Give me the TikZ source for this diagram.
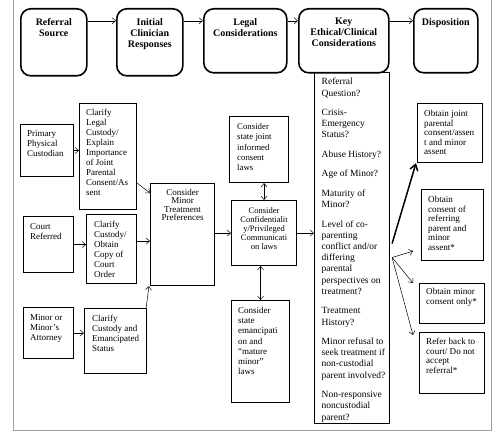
\documentclass[tikz,border=0pt]{standalone}
\usepackage{fontspec}
\setmainfont{Liberation Serif}
\usetikzlibrary{arrows.meta}
\begin{document}
\begin{tikzpicture}[x=1pt,y=-1pt,
 bx/.style={draw, line width=1.1pt, anchor=north west, inner sep=0pt, fill=white},
 tbox/.style={draw, line width=1.6pt, rounded corners=10pt, anchor=north west, inner sep=0pt, fill=white},
 ttxt/.style={anchor=north, inner sep=0pt, align=center, font=\fontsize{10}{11}\selectfont\bfseries},
 ltxt/.style={anchor=north west, inner sep=0pt, align=left, font=\fontsize{9}{10}\selectfont},
 ctxt/.style={anchor=north, inner sep=0pt, align=center},
 dtxt/.style={anchor=north west, inner sep=0pt, align=left, font=\fontsize{9.1}{9.6}\selectfont},
 arr/.style={-{Straight Barb[length=3.5pt,width=6pt]}, line width=0.5pt},
 darr/.style={{Straight Barb[length=3.5pt,width=6pt]}-{Straight Barb[length=3.5pt,width=6pt]}, line width=0.5pt},
 thk/.style={-{Straight Barb[length=6pt,width=8pt]}, line width=1.5pt}]
\useasboundingbox (0,0) rectangle (500,443);
\draw[gray!75, line width=1pt] (13,0) -- (13,430) -- (491,430) -- (491,0);

% top row
\node[tbox, minimum width=66pt, minimum height=67pt] (ref) at (20,8) {};
\node[ttxt] (ref-t) at ([yshift=-10pt]ref.north) {Referral\\Source};
\node[tbox, minimum width=66pt, minimum height=67pt] (init) at (116,8) {};
\node[ttxt] (init-t) at ([yshift=-10pt]init.north) {Initial\\Clinician\\Responses};
\node[tbox, minimum width=83pt, minimum height=64pt] (legal) at (203,8) {};
\node[ttxt] (legal-t) at ([yshift=-10pt]legal.north) {Legal\\Considerations};

% referral question column
\node[bx, minimum width=75pt, minimum height=351pt] (refq) at (314,72) {};
\node[ltxt, font=\fontsize{9.5}{11.2}\selectfont] (refq-t) at ([shift={(7.5pt,-6pt)}]refq.north west)
 {Referral\\Question?\\[8.3pt]
  Crisis-\\Emergency\\Status?\\[8.3pt]
  Abuse History?\\[8.3pt]
  Age of Minor?\\[8.3pt]
  Maturity of\\Minor?\\[8.3pt]
  Level of co-\\parenting\\conflict and/or\\differing\\parental\\perspectives on\\treatment?\\[8.3pt]
  Treatment\\History?\\[8.3pt]
  Minor refusal to\\seek treatment if\\non-custodial\\parent involved?\\[8.3pt]
  Non-responsive\\noncustodial\\parent?};

\node[tbox, minimum width=90pt, minimum height=64pt] (key) at (298,8) {};
\node[ttxt] (key-t) at ([yshift=-10pt]key.north) {Key\\Ethical/Clinical\\Considerations};
\node[tbox, minimum width=64pt, minimum height=64pt] (disp) at (413,8) {};
\node[ttxt] (disp-t) at ([yshift=-10pt]disp.north) {Disposition};

\draw[arr] ([yshift=21.5pt]ref.east) -- ([yshift=21.5pt]init.west);
\draw[arr] ([yshift=21.5pt]init.east) -- ([yshift=20pt]legal.west);
\draw[arr] ([yshift=20pt]legal.east) -- ([yshift=20pt]key.west);
\draw[arr] ([yshift=20pt]key.east) -- ([yshift=20pt]disp.west);

% left column
\node[bx, minimum width=53pt, minimum height=52pt] (ppc) at (20,124) {};
\node[ltxt] (ppc-t) at ([shift={(7pt,-6pt)}]ppc.north west) {Primary\\Physical\\Custodian};
\node[bx, minimum width=57pt, minimum height=106pt] (clc) at (79,103) {};
\node[ltxt] (clc-t) at ([shift={(7pt,-6pt)}]clc.north west) {Clarify\\Legal\\Custody/\\Explain\\Importance\\of Joint\\Parental\\Consent/As\\sent};
\node[bx, minimum width=50pt, minimum height=56pt] (court) at (23,216) {};
\node[ltxt] (court-t) at ([shift={(7pt,-7pt)}]court.north west) {Court\\Referred};
\node[bx, minimum width=50pt, minimum height=69pt] (cco) at (86,214) {};
\node[ltxt] (cco-t) at ([shift={(8pt,-7pt)}]cco.north west) {Clarify\\Custody/\\Obtain\\Copy of\\Court\\Order};
\node[bx, minimum width=50pt, minimum height=51pt] (minor) at (23,307) {};
\node[ltxt] (minor-t) at ([shift={(7pt,-7pt)}]minor.north west) {Minor or\\Minor's\\Attorney};
\node[bx, minimum width=62pt, minimum height=65pt] (cce) at (84,308) {};
\node[ltxt] (cce-t) at ([shift={(8pt,-7pt)}]cce.north west) {Clarify\\Custody and\\Emancipated\\Status};

% middle
\node[bx, minimum width=64pt, minimum height=102pt] (mtp) at (150,183) {};
\node[ctxt, font=\fontsize{9}{8.3}\selectfont] (mtp-t) at ([yshift=-6pt]mtp.north) {Consider\\Minor\\Treatment\\Preferences};
\node[bx, minimum width=59pt, minimum height=66pt] (jc) at (229,116) {};
\node[ltxt, font=\fontsize{8.8}{10.4}\selectfont] (jc-t) at ([shift={(8pt,-7pt)}]jc.north west) {Consider\\state joint\\informed\\consent\\laws};
\node[bx, minimum width=65pt, minimum height=65pt] (conf) at (231,200) {};
\node[ctxt, font=\fontsize{8.5}{9}\selectfont] (conf-t) at ([yshift=-7pt]conf.north) {Consider\\Confidentialit\\y/Privileged\\Communicati\\on laws};
\node[bx, minimum width=58pt, minimum height=102pt] (em) at (231,300) {};
\node[ltxt, font=\fontsize{9}{10.2}\selectfont] (em-t) at ([shift={(7pt,-7pt)}]em.north west) {Consider\\state\\emancipati\\on and\\``mature\\minor''\\laws};

% disposition
\node[bx, minimum width=65pt, minimum height=59pt] (d1) at (417,103) {};
\node[dtxt] (d1-t) at ([shift={(7pt,-7pt)}]d1.north west) {Obtain joint\\parental\\consent/assen\\t and minor\\assent};
\node[bx, minimum width=62pt, minimum height=71pt] (d2) at (421,189) {};
\node[dtxt] (d2-t) at ([shift={(7pt,-7pt)}]d2.north west) {Obtain\\consent of\\referring\\parent and\\minor\\assent*};
\node[bx, minimum width=65pt, minimum height=40pt] (d3) at (419,283) {};
\node[dtxt] (d3-t) at ([shift={(7pt,-5pt)}]d3.north west) {Obtain minor\\consent only*};
\node[bx, minimum width=65pt, minimum height=61pt] (d4) at (419,332) {};
\node[dtxt] (d4-t) at ([shift={(7pt,-6pt)}]d4.north west) {Refer back to\\court/ Do not\\accept\\referral*};

% connectors
\draw[arr] (ppc.east) -- (ppc.east -| clc.west);
\draw[arr] (court.east) -- (court.east -| cco.west);
\draw[arr] (minor.east) -- (minor.east -| cce.west);
\draw[arr] ([yshift=27pt]clc.south east) -- ([yshift=-10pt]mtp.north west);
\coordinate (c1) at ([yshift=8pt]cco.east);
\draw[arr] (c1) -- (c1 -| mtp.west);
\draw[arr] ([xshift=-1pt]cce.north east) -- ([xshift=-1pt]mtp.south west);
\draw[arr] (mtp.east |- conf.west) -- (conf.west);
\draw[darr] (conf.north |- jc.south) -- (conf.north);
\draw[darr] (em.north |- conf.south) -- (em.north);
\draw[arr] (conf.east) -- (conf.east -| refq.west);
\coordinate (o1) at ([shift={(2pt,4.5pt)}]refq.east);
\coordinate (o2) at ([shift={(2pt,-9.5pt)}]refq.east);
\draw[thk] (o1) -- ([xshift=-1pt]d1.south west);
\draw[arr] (o2) -- ([shift={(-8pt,10pt)}]d2.south west);
\draw[arr] (o2) -- ([xshift=-6pt]d3.north west);
\draw[arr] (o2) -- ([shift={(-6pt,-3pt)}]d4.north west);
\end{tikzpicture}
\end{document}
